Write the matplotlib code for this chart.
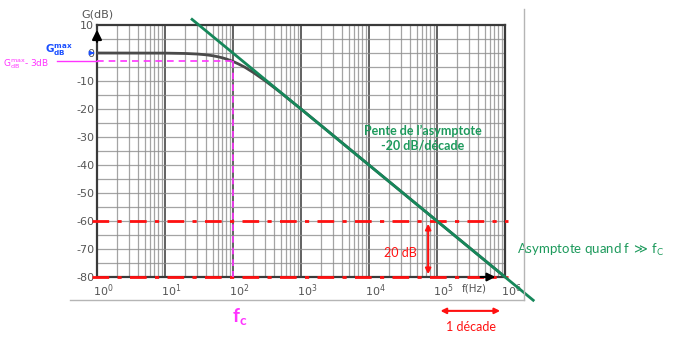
"""
Bode diagram (gain) of a first-order low-pass filter, with asymptote notes.
Output: out.png (682x340 px)
"""

import matplotlib.pyplot as plt
import matplotlib.transforms as mtransforms
from matplotlib.lines import Line2D

# ── Data ────────────────────────────────────────────────────────────────
FREQ = [1, 10, 20, 30, 40, 50, 60, 70, 80, 100, 120, 150, 200, 300, 400, 500,
        700, 1000, 2000, 1e4, 1e5, 1e6]
GAIN_DB = [0, -0.04, -0.17, -0.37, -0.64, -0.97, -1.34, -1.73, -2.15, -3.0,
           -3.9, -5.1, -7.0, -10.0, -12.3, -14.1, -17.0, -20.0, -26.0, -40.0,
           -60.0, -80.0]

ASYM_F = [25, 2.6e6]        # green asymptote, drawn past the frame
ASYM_G = [12, -88.3]

FC = 100
DECADES = [1, 10, 100, 1e3, 1e4, 1e5, 1e6]
X_LABELS = ["$10^0$", "$10^1$", "$10^2$", "$10^3$", "$10^4$", "$10^5$", "$10^6$"]
Y_TICKS = [10, 0, -10, -20, -30, -40, -50, -60, -70, -80]
REF_LEVELS = [-60, -80]

# ── Colours ──────────────────────────────────────────────────────────────
C_GREEN = "#16875a"
C_GREEN_TXT = "#1d9a5c"
C_RED = "#ff1010"
C_MAG = "#ff33ff"
C_BLUE = "#1a4fff"
C_TICK = "#555555"

TXT_FONT = ["Lato", "DejaVu Sans"]

fig = plt.figure(figsize=(6.82, 3.40), dpi=100)
ax = fig.add_axes([97 / 682, 1 - 277 / 340, 408 / 682, 252 / 340])
ax.set_xscale("log")
ax.set_xlim(1, 1e6)
ax.set_ylim(-80, 10)

# ── Grid ─────────────────────────────────────────────────────────────────
for k in range(6):
    for m in range(2, 10):
        ax.axvline(m * 10**k, color="#8e8e8e", lw=0.9, alpha=0.8, zorder=1)
for d in DECADES[1:-1]:
    ax.axvline(d, color="#555555", lw=1.3, zorder=1)
for g in range(-75, 10, 5):
    ax.axhline(g, color="#8e8e8e", lw=0.9, alpha=0.8, zorder=1)

for s in ax.spines.values():
    s.set_color("#3a3a3a")
    s.set_linewidth(1.6)

# ── Ticks ────────────────────────────────────────────────────────────────
ax.set_xticks(DECADES)
ax.set_xticklabels(X_LABELS)
ax.set_yticks(Y_TICKS)
ax.set_yticklabels([str(v) for v in Y_TICKS])
ax.minorticks_off()
ax.tick_params(axis="both", length=0, labelsize=8, labelcolor=C_TICK)
ax.tick_params(axis="x", pad=4)
ax.tick_params(axis="y", pad=2)
shift = mtransforms.ScaledTranslation(0.06, 0, fig.dpi_scale_trans)
for lab in ax.get_xticklabels():
    lab.set_transform(lab.get_transform() + shift)

ax.text(10**5.55, -82.2, "f(Hz)", fontsize=7.5, color=C_TICK, ha="center",
        va="top", clip_on=False)
ax.text(1, 13.6, "G(dB)", fontsize=8, color=C_TICK, ha="center", va="center",
        clip_on=False)

# ── Curve and asymptote ──────────────────────────────────────────────────
ax.plot(FREQ, GAIN_DB, color="#4a4a4a", lw=2, zorder=3)
ax.plot(ASYM_F, ASYM_G, color=C_GREEN, lw=2, zorder=5, clip_on=False)

# reference levels -60 / -80 dB
for lvl in REF_LEVELS:
    ax.plot([0.85, 1.1e6], [lvl, lvl], color=C_RED, lw=2, ls=(0, (6, 3, 1.5, 3)),
            zorder=4, clip_on=False)

# axis arrows
ax.annotate("", xy=(1, 9.3), xytext=(1, 3), xycoords="data",
            arrowprops=dict(arrowstyle="-|>", color="black", lw=1.6,
                            mutation_scale=14), annotation_clip=False, zorder=6)
ax.annotate("", xy=(10**5.9, -80), xytext=(10**5.6, -80),
            arrowprops=dict(arrowstyle="-|>", color="black", lw=1.5,
                            mutation_scale=12), annotation_clip=False, zorder=4)

# ── fc and -3 dB markers ─────────────────────────────────────────────────
ax.plot([0.26, 1], [-3, -3], color=C_MAG, lw=1, clip_on=False, zorder=4)
ax.plot([1, FC], [-3, -3], color=C_MAG, lw=1.2, ls=(0, (4, 3)), zorder=4)
ax.plot([FC, FC], [-3, -80], color=C_MAG, lw=1.2, ls=(0, (4, 3)), zorder=4)
ax.annotate("", xy=(1, 0), xytext=(0.8, 0),
            arrowprops=dict(arrowstyle="-|>", color=C_BLUE, lw=1,
                            mutation_scale=6), annotation_clip=False)
ax.text(0.27, 1.0, r"$\mathbf{G_{dB}^{max}}$", fontsize=7.5, color=C_BLUE,
        ha="center", va="center", clip_on=False)
ax.text(0.2, -4.0, r"$\mathregular{G_{dB}^{max}}$- 3dB", fontsize=6.5,
        color=C_MAG, ha="right", va="center", clip_on=False)
ax.text(FC * 1.25, -94.5, r"f$_\mathregular{c}$", fontsize=14, color=C_MAG,
        ha="center", va="center", family=TXT_FONT, fontweight="bold",
        clip_on=False)

# ── Slope annotations ────────────────────────────────────────────────────
ax.text(10**4.79, -30.3, "Pente de l\u2019asymptote\n-20 dB/décade",
        fontsize=9, color=C_GREEN_TXT, fontweight="bold", ha="center",
        va="center", family=TXT_FONT, linespacing=1.25)
ax.text(10**6.18, -70.4, r"Asymptote quand f$\,\gg\,$f$_\mathregular{C}$",
        fontsize=9.5, color=C_GREEN_TXT, ha="left", va="center",
        family=TXT_FONT, clip_on=False)

ax.annotate("", xy=(10**4.87, -60), xytext=(10**4.87, -80),
            arrowprops=dict(arrowstyle="<|-|>", color=C_RED, lw=1.5,
                            mutation_scale=8), zorder=6)
ax.text(10**4.46, -71.4, "20 dB", fontsize=9, color=C_RED, ha="center",
        va="center", family=TXT_FONT)

ax.annotate("", xy=(10**5.97, -92.1), xytext=(10**5.01, -92.1),
            arrowprops=dict(arrowstyle="<|-|>", color=C_RED, lw=1.5,
                            mutation_scale=8), annotation_clip=False)
ax.text(10**5.5, -97.9, "1 décade", fontsize=9, color=C_RED, ha="center",
        va="center", family=TXT_FONT, clip_on=False)

# light outer frame (bottom and right edges only)
fig.add_artist(Line2D([70 / 682, 524 / 682], [1 - 300 / 340] * 2,
                      transform=fig.transFigure, color="#b5b5b5", lw=1))
fig.add_artist(Line2D([524 / 682] * 2, [1 - 9 / 340, 1 - 300 / 340],
                      transform=fig.transFigure, color="#b5b5b5", lw=1))

fig.savefig("out.png", dpi=100)
